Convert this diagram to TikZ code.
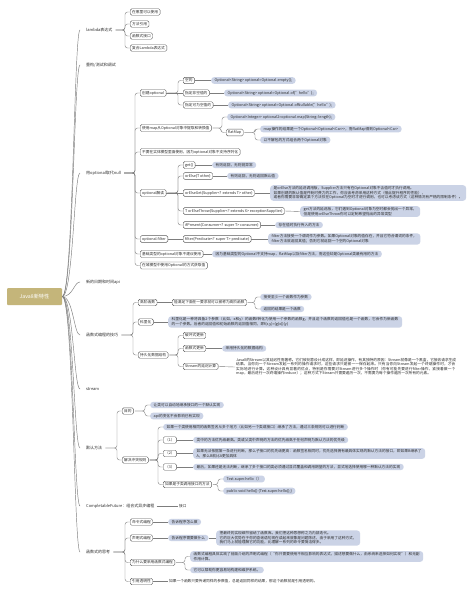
\documentclass[tikz,border=0pt]{standalone}
\usepackage{fontspec}
\setmainfont{Noto Sans CJK SC}
\XeTeXlinebreaklocale "zh"
\XeTeXlinebreakskip = 0pt plus 1pt
\usetikzlibrary{calc}
\definecolor{boxc}{RGB}{90,90,90}
\definecolor{pillc}{RGB}{203,211,230}
\definecolor{linec}{RGB}{125,125,125}
\definecolor{rootc}{RGB}{196,181,122}
\definecolor{txtc}{RGB}{45,45,45}
\newcommand{\mysm}{\fontsize{3.7}{4.4}\selectfont}
\newcommand{\mylg}{\fontsize{4}{5}\selectfont}
\newcommand{\myrt}{\fontsize{5.2}{6}\selectfont}
\newcommand{\cn}[2]{\draw[conn] ([xshift=1pt]#1.east) -- ([xshift=-5pt]#2.west |- #1.east) -- ([xshift=-5pt]#2.west) -- (#2.west);}
\newcommand{\sn}[2]{\draw[conn] (#1.east) -- (#2.west);}
\newcommand{\rn}[1]{\draw[rootline] (r.east) .. controls ([xshift=11pt]r.east) and ([xshift=-10pt]#1.west) .. ([xshift=-4pt]#1.west);}
\tikzset{
  box/.style={draw=boxc, line width=0.4pt, rounded corners=1.5pt, fill=white, inner xsep=2pt, inner ysep=1.5pt, font=\mysm, anchor=west, text=txtc},
  pill/.style={fill=pillc, rounded corners=3pt, inner xsep=3.5pt, inner ysep=1.4pt, font=\mysm, anchor=west, text=txtc},
  plain/.style={inner sep=1pt, font=\mysm, anchor=west, text=txtc},
  lone/.style={inner xsep=2pt, inner ysep=1pt, font=\mylg, anchor=west, text=txtc},
  rootbox/.style={fill=rootc, minimum width=55pt, minimum height=17pt, font=\myrt, text=white, inner sep=1pt, rounded corners=1pt},
  conn/.style={draw=linec, line width=0.4pt, rounded corners=2.5pt},
  rootline/.style={draw=linec, line width=0.45pt}
}
\begin{document}
\begin{tikzpicture}[x=1pt,y=-1pt]
\fill[white] (0,0) rectangle (474,594);
\useasboundingbox (0,0) rectangle (474,594);

% root
\node[rootbox] (r) at (34.5,296.5) {Java8新特性};

% level 1
\node[lone] (La) at (84,30) {lambda表达式};
\node[lone] (Lb) at (84,65) {重构/测试和调试};
\node[lone] (Lc) at (84,173) {用optional取代null};
\node[lone] (Ld) at (84,282) {新的日期和时间api};
\node[lone] (Le) at (84,335) {函数式编程的技巧};
\node[lone] (Lf) at (84,389) {stream};
\node[lone] (Lg) at (84,448) {默认方法};
\node[lone] (Lh) at (84,506) {CompletableFuture：组合式异步编程};
\node[lone] (Li) at (84,552) {函数式的思考};
\rn{La}\rn{Lb}\rn{Lc}\rn{Ld}\rn{Le}\rn{Lf}\rn{Lg}\rn{Lh}\rn{Li}

% lambda
\node[box] (a1) at (130,12) {在哪里可以使用};
\node[box] (a2) at (130,24) {方法引用};
\node[box] (a3) at (130,36) {函数式接口};
\node[box] (a4) at (130,48) {复合Lambda表达式};
\cn{La}{a1}\cn{La}{a2}\cn{La}{a3}\cn{La}{a4}

% optional
\node[box] (o1) at (140,93) {创建optional};
\node[box] (o1a) at (183,80.5) {空的};
\node[pill] (p1a) at (211,80.5) {Optional<String> optional=Optional.empty();};
\node[box] (o1b) at (183,93) {指定非空值的};
\node[pill] (p1b) at (224,93) {Optional<String> optional=Optional.of("hello");};
\node[box] (o1c) at (183,105) {指定可为空值的};
\node[pill] (p1c) at (228,105) {Optional<String> optional=Optional.ofNullable("hello");};
\node[box] (o2) at (140,128) {使用map从Optional对象中提取和转换值};
\node[pill] (p2a) at (227,117) {Optional<Integer> optional2=optional.map(String::length);};
\node[box] (o2b) at (226,132.5) {flatMap};
\node[pill] (p2b) at (260,129) {map操作的结果是一个Optional<Optional<Car>{}>，而flatMap得到Optional<Car>};
\node[pill] (p2c) at (260,140) {以不解包的方式组合两个Optional对象};
\node[box] (o3) at (140,152) {不要在实体模型里面使用，因为optional对象不支持序列化};
\node[box] (o4) at (140,193) {optional解读};
\node[box] (g1) at (183,165) {get()};
\node[pill] (q1) at (212,165) {有则返回，无则抛异常};
\node[box] (g2) at (183,176) {orElse(T other)};
\node[pill] (q2) at (227,176) {有则返回，无则返回默认值};
\node[box] (g3) at (183,193) {orElseGet(Supplier<? extends T> other)};
\node[pill,align=left] (q3) at (270,193) {是orElse方法的延迟调用版，Supplier方法只有在Optional对象不含值时才执行调用。\\如果创建的默认值是件耗时费力的工作，你应该考虑采用这种方式（借此提升程序的性能），\\或者你需要非常确定某个方法仅在Optional为空时才进行调用，也可以考虑该方式（这种情况有严格的限制条件）。};
\node[box] (g4) at (183,211) {T orElseThrow(Supplier<? extends X> exceptionSupplier)};
\node[pill,align=left] (q4) at (300,211.5) {get方法的延迟版，它们遇到Optional对象为空时都会抛出一个异常，\\但是使用orElseThrow你可以定制希望抛出的异常类型};
\node[box] (g5) at (183,225) {ifPresent(Consumer<? super T> consumer)};
\node[pill] (q5) at (275,225) {存在值时执行传入的方法};
\node[box] (o5) at (140,239) {optional.filter};
\node[box] (o5a) at (183,239) {filter(Predicate<? super T> predicate)};
\node[pill,align=left] (p5) at (268,239) {filter方法接受一个谓词作为参数。如果Optional对象的值存在，并且它符合谓词的条件，\\filter方法就返回其值；否则它就返回一个空的Optional对象};
\node[box] (o6) at (140,254) {基础类型的optional对象不建议使用};
\node[pill] (p6) at (212,254) {因为基础类型的Optional不支持map、flatMap以及filter方法，而这些却是Optional类最有用的方法};
\node[box] (o7) at (140,265.5) {在域模型中使用Optional的方式获取值};
\cn{Lc}{o1}\cn{Lc}{o2}\cn{Lc}{o3}\cn{Lc}{o4}\cn{Lc}{o5}\cn{Lc}{o6}\cn{Lc}{o7}
\cn{o1}{o1a}\sn{o1}{o1b}\cn{o1}{o1c}
\sn{o1a}{p1a}\sn{o1b}{p1b}\sn{o1c}{p1c}
\cn{o2}{p2a}\cn{o2}{o2b}\cn{o2b}{p2b}\cn{o2b}{p2c}
\cn{o4}{g1}\cn{o4}{g2}\sn{o4}{g3}\cn{o4}{g4}\cn{o4}{g5}
\sn{g1}{q1}\sn{g2}{q2}\sn{g3}{q3}\sn{g4}{q4}\sn{g5}{q5}
\sn{o5}{o5a}\sn{o5a}{p5}\sn{o6}{p6}

% functional techniques
\node[box] (f1) at (138,302.5) {高阶函数};
\node[box] (f1a) at (172,302.5) {能满足下面任一要求就可以被称为高阶函数};
\node[pill] (f1b) at (260,297) {接受至少一个函数作为参数};
\node[pill] (f1c) at (260,309) {返回的结果是一个函数};
\node[box] (f2) at (138,322) {科里化};
\node[pill,text width=227pt,align=left] (f2a) at (168,322) {科里化是一种将具备2个参数（比如，x和y）的函数f转化为使用一个参数的函数g，并且这个函数的返回值也是一个函数，它会作为新函数的一个参数。后者的返回值和初始函数的返回值相同，即f(x,y)=(g(x))(y)};
\node[box] (f3) at (138,355) {持久化数据结构};
\node[box] (f3a) at (183,335.5) {破坏式更新};
\node[box] (f3b) at (183,348.5) {函数式更新};
\node[pill] (f3c) at (222,348.5) {采用持久化的数据结构};
\node[box] (f3d) at (183,366.5) {Stream的延迟计算};
\node[plain,text width=220pt,align=left] (f3e) at (235,367) {Java8的Stream以其延迟性而著称。它们被刻意设计成这样，即延迟操作，有其独特的原因：Stream就像是一个黑盒，它接收请求生成结果。当你向一个Stream发起一系列的操作请求时，这些请求只是被一一保存起来。只有当你向Stream发起一个终端操作时，才会实际地进行计算。这种设计具有显著的优点，特别是你需要对Stream进行多个操作时（你有可能先要进行filter操作，紧接着做一个map，最后进行一次终端操作reduce）；这种方式下Stream只需要遍历一次，不需要为每个操作遍历一次所有的元素。};
\cn{Le}{f1}\cn{Le}{f2}\cn{Le}{f3}
\sn{f1}{f1a}\cn{f1a}{f1b}\cn{f1a}{f1c}
\sn{f2}{f2a}
\cn{f3}{f3a}\cn{f3}{f3b}\cn{f3}{f3d}
\sn{f3b}{f3c}\sn{f3d}{f3e}

% default methods
\node[box] (d1) at (122,411) {目的};
\node[pill] (d1a) at (150,405) {让类可以自动地继承接口的一个默认实现};
\node[pill] (d1b) at (150,416) {api的变化不会影响已有实现};
\node[box] (d2) at (122,460) {解决冲突规则};
\node[pill] (e0) at (163,427) {如果一个类使用相同的函数签名从多个地方（比如另一个类或接口）继承了方法，通过三条规则可以进行判断};
\node[box] (e1) at (163,440) {（1）};
\node[pill] (e1a) at (193,440) {类中的方法优先级最高。类或父类中声明的方法的优先级高于任何声明为默认方法的优先级};
\node[box] (e2) at (163,453.5) {（2）};
\node[pill,text width=225pt,align=left] (e2a) at (193,453.5) {如果无法依据第一条进行判断，那么子接口的优先级更高：函数签名相同时，优先选择拥有最具体实现的默认方法的接口，即如果B继承了A，那么B就比A更加具体};
\node[box] (e3) at (163,467) {（3）};
\node[pill] (e3a) at (193,467) {最后，如果还是无法判断，继承了多个接口的类必须通过显式覆盖和调用期望的方法，显式地选择使用哪一种默认方法的实现};
\node[box] (e4) at (163,484.5) {如果是子类调用接口的方法};
\node[pill] (e4a) at (223,479) {Test.super.hello（）};
\node[pill] (e4b) at (223,491) {public void hello() \{Test.super.hello();\}};
\cn{Lg}{d1}\cn{Lg}{d2}
\cn{d1}{d1a}\cn{d1}{d1b}
\cn{d2}{e0}\cn{d2}{e1}\cn{d2}{e2}\cn{d2}{e3}\cn{d2}{e4}
\sn{e1}{e1a}\sn{e2}{e2a}\sn{e3}{e3a}
\cn{e4}{e4a}\cn{e4}{e4b}

% completable future
\node[plain] (h1) at (178,506) {接口};
\sn{Lh}{h1}

% functional thinking
\node[box] (t1) at (130,522) {命令式编程};
\node[pill] (t1a) at (168,522) {告诉程序怎么做};
\node[box] (t2) at (130,538) {声明式编程};
\node[pill] (t2a) at (168,538) {告诉程序需要做什么};
\node[pill,align=left] (t2b) at (216,538) {把最终的实现细节留给了函数库。我们把这种思想称之为内部迭代。\\它的巨大优势在于你的查询语句现在读起来就像是问题陈述，由于采用了这种方式，\\我们马上就能理解它的功能，比理解一系列的命令要简洁得多。};
\node[box] (t3) at (130,562.5) {为什么要采用函数式编程};
\node[pill,text width=226pt,align=left] (t3a) at (190,556.5) {函数式编程具体实践了前面介绍的声明式编程（“你只需要使用不相互影响的表达式，描述想要做什么，由系统来选择如何实现”）和无副作用计算。};
\node[pill] (t3b) at (190,570) {它可以帮助你更容易地构建和维护系统。};
\node[box] (t4) at (130,581.5) {引用透明性};
\node[plain] (t4a) at (168,581.5) {如果一个函数只要传递同样的参数值，总是返回同样的结果，那这个函数就是引用透明的。};
\cn{Li}{t1}\cn{Li}{t2}\cn{Li}{t3}\cn{Li}{t4}
\sn{t1}{t1a}\sn{t2}{t2a}\sn{t2a}{t2b}
\cn{t3}{t3a}\cn{t3}{t3b}\sn{t4}{t4a}
\end{tikzpicture}
\end{document}
